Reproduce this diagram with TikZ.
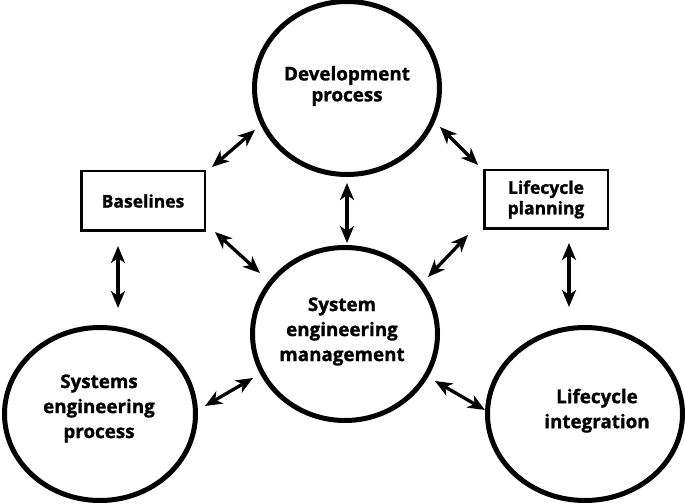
\documentclass[tikz,border=0pt]{standalone}
\usepackage{fontspec}
\setmainfont[BoldFeatures={FakeBold=1.2}]{Open Sans}
\usetikzlibrary{shapes.geometric,arrows.meta}
\begin{document}
\begin{tikzpicture}[x=1bp,y=-1bp,
  circ/.style={draw, ellipse, line width=5bp, inner sep=0pt},
  box/.style={draw, rectangle, line width=2.5bp, inner sep=0pt, align=center,
    font=\fontsize{17.5bp}{20.5bp}\selectfont\bfseries},
  lbl/.style={align=center, inner sep=0pt, font=\fontsize{18.8bp}{25bp}\selectfont\bfseries},
  lbltight/.style={align=center, inner sep=0pt, font=\fontsize{18.8bp}{21bp}\selectfont\bfseries},
  dbl/.style={line width=3.3bp, {Stealth[length=17bp,width=14bp,inset=5bp]}-{Stealth[length=17bp,width=14bp,inset=5bp]}}
]
\useasboundingbox (0,0) rectangle (685,504);

% circles
\node[circ, minimum width=185bp, minimum height=173bp] (dev) at (347,88) {};
\node[circ, minimum width=185bp, minimum height=173bp] (sem) at (345,334) {};
\node[circ, minimum width=191bp, minimum height=173bp] (sep) at (100,414) {};
\node[circ, minimum width=195bp, minimum height=173bp] (lci) at (585,414) {};

% circle labels
\node[lbltight] (tdev) at (347,86) {Development\\process};
\node[lbl] (tsem) at (342,331.5) {System\\engineering\\management};
\node[lbl] (tsep) at (99,408.5) {Systems\\engineering\\process};
\node[lbl] (tlci) at (597,410.7) {Lifecycle\\integration};

% boxes
\node[box, minimum width=123.5bp, minimum height=59.5bp] (base) at (143,201) {Baselines};
\node[box, minimum width=123.5bp, minimum height=58.5bp] (lcp) at (546,199.5) {Lifecycle\\planning};

% arrow ends
\coordinate (a1s) at (212,167); \coordinate (a1e) at (255,130);
\coordinate (a2s) at (440,127); \coordinate (a2e) at (478,165);
\coordinate (a3s) at (347,183); \coordinate (a3e) at (347,243);
\coordinate (a4s) at (215,232); \coordinate (a4e) at (260,273);
\coordinate (a5s) at (468,235); \coordinate (a5e) at (428,277);
\coordinate (a6s) at (118,246); \coordinate (a6e) at (118,308);
\coordinate (a7s) at (569,243); \coordinate (a7e) at (569,307);
\coordinate (a8s) at (205,406); \coordinate (a8e) at (253,378);
\coordinate (a9s) at (435,381); \coordinate (a9e) at (485,410);

\draw[dbl] (a1s) -- (a1e);
\draw[dbl] (a2s) -- (a2e);
\draw[dbl] (a3s) -- (a3e);
\draw[dbl] (a4s) -- (a4e);
\draw[dbl] (a5s) -- (a5e);
\draw[dbl] (a6s) -- (a6e);
\draw[dbl] (a7s) -- (a7e);
\draw[dbl] (a8s) -- (a8e);
\draw[dbl] (a9s) -- (a9e);
\end{tikzpicture}
\end{document}
